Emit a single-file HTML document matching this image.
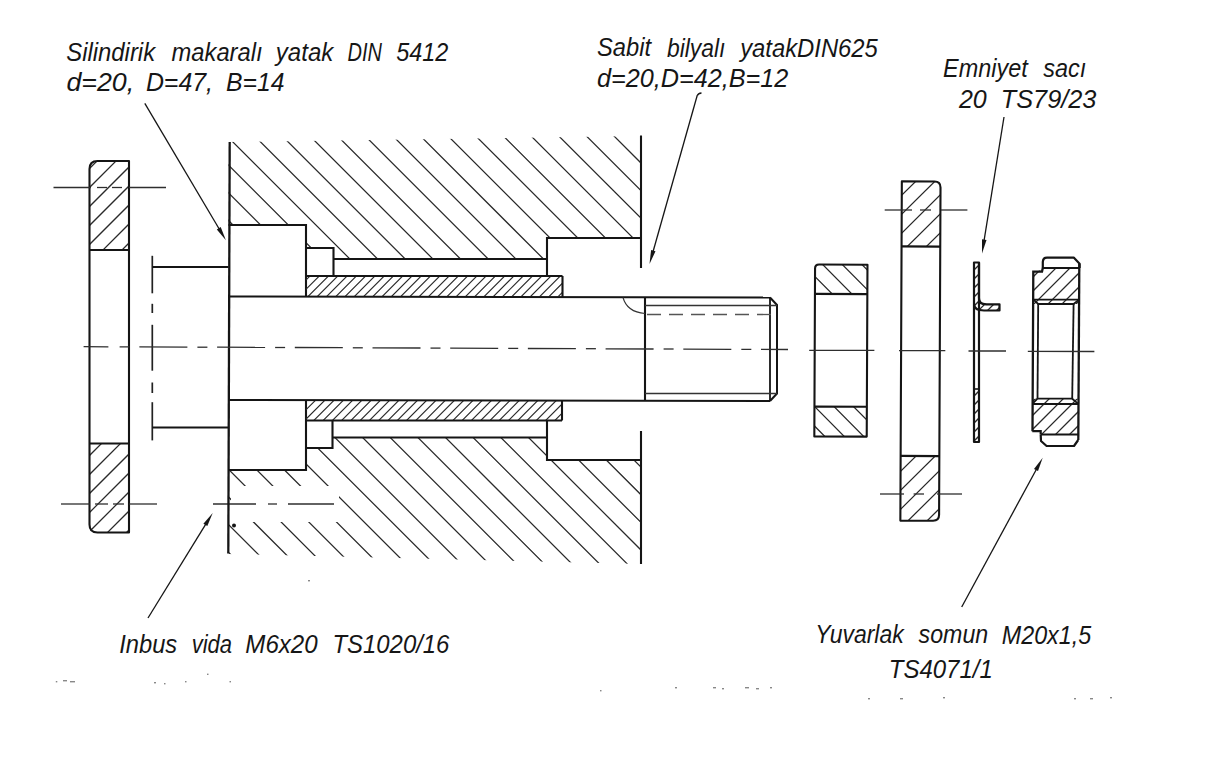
<!DOCTYPE html>
<html><head><meta charset="utf-8"><title>Drawing</title>
<style>
html,body{margin:0;padding:0;background:#fff;}
body{width:1209px;height:762px;overflow:hidden;}
svg{display:block;}
text{font-family:"Liberation Sans",sans-serif;font-style:italic;fill:#161616;}
</style></head><body>
<svg width="1209" height="762" viewBox="0 0 1209 762">
<defs><clipPath id="h1"><polygon points="92.5,161 129,161 129,250 89.5,250 89.5,164"/></clipPath>
<clipPath id="h2"><polygon points="89.5,443.5 129,443.5 129,532.5 92.5,532.5 89.5,529.5"/></clipPath>
<clipPath id="h3"><polygon points="228.5,142 641,136 641,238 547,238 547,259 333.5,259 333.5,248 306,248 306,225 228.5,225"/></clipPath>
<clipPath id="h4"><polygon points="228.5,470 306,470 306,448 332.5,448 332.5,437.5 547,437.5 547,460 641,460 641,564 228.5,554"/></clipPath>
<clipPath id="h5"><polygon points="306,276 562.5,276 562.5,296.5 306,296.5"/></clipPath>
<clipPath id="h6"><polygon points="306,400.5 562,400.5 562,420.5 306,420.5"/></clipPath>
<clipPath id="h7"><polygon points="814.7,264.6 867.1,264.6 867.1,294 814.7,294"/></clipPath>
<clipPath id="h8"><polygon points="814.7,406.7 867.1,406.7 867.1,436.5 814.7,436.5"/></clipPath>
<clipPath id="h9"><polygon points="901.1,181.5 939.8,181.5 939.8,246.5 901.1,246.5"/></clipPath>
<clipPath id="h10"><polygon points="901.1,456 939.8,456 939.8,520.7 901.1,520.7"/></clipPath>
<clipPath id="h11"><polygon points="974,262.5 979,262.5 979,303 999.5,304.5 999.5,310.5 974,310.5"/></clipPath>
<clipPath id="h12"><polygon points="974,389 979,389 979,442 974,442"/></clipPath>
<clipPath id="h13"><polygon points="1033.3,271.6 1042.8,270 1042.8,268 1079,268 1079,304 1033.3,304"/></clipPath>
<clipPath id="h14"><polygon points="1032.3,398.7 1078,398.7 1078,434.6 1040.7,434.6 1040.7,431.2 1032.3,431.2"/></clipPath></defs>
<rect width="1209" height="762" fill="#fff"/>
<path clip-path="url(#h1)" d="M99 159L6 252M118 159L25 252M137 159L44 252M156 159L63 252M175 159L82 252M194 159L101 252M213 159L120 252" stroke="#2a2a2a" stroke-width="1.25" fill="none"/>
<path clip-path="url(#h2)" d="M103.5 441.5L10.5 534.5M122.5 441.5L29.5 534.5M141.5 441.5L48.5 534.5M160.5 441.5L67.5 534.5M179.5 441.5L86.5 534.5M198.5 441.5L105.5 534.5M217.5 441.5L124.5 534.5" stroke="#2a2a2a" stroke-width="1.25" fill="none"/>
<path d="M129 161 L129 532.5 L97.5 532.5 Q89.5 532.5 89.5 524.5 L89.5 169 Q89.5 161 97.5 161 Z" fill="none" stroke="#151515" stroke-width="2.1" stroke-linejoin="round"/>
<line x1="89.5" y1="250" x2="129" y2="250" stroke="#151515" stroke-width="2.1" stroke-linecap="butt"/>
<line x1="89.5" y1="443.5" x2="129" y2="443.5" stroke="#151515" stroke-width="2.1" stroke-linecap="butt"/>
<line x1="53.5" y1="187.5" x2="91" y2="187.5" stroke="#2e2e2e" stroke-width="1.3" stroke-linecap="butt"/>
<line x1="97" y1="187.5" x2="107" y2="187.5" stroke="#2e2e2e" stroke-width="1.3" stroke-linecap="butt"/>
<line x1="112" y1="187.5" x2="122" y2="187.5" stroke="#2e2e2e" stroke-width="1.3" stroke-linecap="butt"/>
<line x1="129" y1="187.5" x2="166" y2="187.5" stroke="#2e2e2e" stroke-width="1.3" stroke-linecap="butt"/>
<line x1="61" y1="504" x2="90" y2="504" stroke="#2e2e2e" stroke-width="1.3" stroke-linecap="butt"/>
<line x1="95" y1="504" x2="108" y2="504" stroke="#2e2e2e" stroke-width="1.3" stroke-linecap="butt"/>
<line x1="113" y1="504" x2="124" y2="504" stroke="#2e2e2e" stroke-width="1.3" stroke-linecap="butt"/>
<line x1="129" y1="504" x2="157" y2="504" stroke="#2e2e2e" stroke-width="1.3" stroke-linecap="butt"/>
<line x1="152.3" y1="255.8" x2="152.3" y2="293.3" stroke="#222" stroke-width="1.7" stroke-linecap="butt"/>
<line x1="152.3" y1="303.8" x2="152.3" y2="313" stroke="#222" stroke-width="1.7" stroke-linecap="butt"/>
<line x1="152.3" y1="324.8" x2="152.3" y2="370.7" stroke="#222" stroke-width="1.7" stroke-linecap="butt"/>
<line x1="152.3" y1="382.5" x2="152.3" y2="393" stroke="#222" stroke-width="1.7" stroke-linecap="butt"/>
<line x1="152.3" y1="402.2" x2="152.3" y2="440.4" stroke="#222" stroke-width="1.7" stroke-linecap="butt"/>
<line x1="152.3" y1="267" x2="228.5" y2="267" stroke="#151515" stroke-width="1.8" stroke-linecap="butt"/>
<line x1="152.3" y1="427.5" x2="228.5" y2="427.5" stroke="#151515" stroke-width="1.8" stroke-linecap="butt"/>
<path clip-path="url(#h3)" d="M114.3 134L241.3 261M142 134L269 261M169.7 134L296.6 261M197.3 134L324.3 261M224.9 134L351.9 261M252.6 134L379.6 261M280.2 134L407.2 261M307.9 134L434.9 261M335.5 134L462.5 261M363.2 134L490.2 261M390.9 134L517.9 261M418.5 134L545.5 261M446.1 134L573.1 261M473.8 134L600.8 261M501.4 134L628.5 261M529.1 134L656.1 261M556.8 134L683.8 261M584.4 134L711.4 261M612 134L739 261" stroke="#2a2a2a" stroke-width="1.25" fill="none"/>
<path clip-path="url(#h4)" d="M111.7 435.5L242.2 566M139.4 435.5L269.9 566M167 435.5L297.5 566M194.7 435.5L325.1 566M222.3 435.5L352.8 566M250 435.5L380.5 566M277.6 435.5L408.1 566M305.2 435.5L435.8 566M332.9 435.5L463.4 566M360.6 435.5L491.1 566M388.2 435.5L518.7 566M415.9 435.5L546.4 566M443.5 435.5L574 566M471.1 435.5L601.6 566M498.8 435.5L629.3 566M526.5 435.5L657 566M554.1 435.5L684.6 566M581.8 435.5L712.2 566M609.4 435.5L739.9 566M637 435.5L767.5 566" stroke="#2a2a2a" stroke-width="1.25" fill="none"/>
<rect x="231" y="486" width="108" height="36" fill="#fff"/>
<line x1="213" y1="504" x2="256" y2="504" stroke="#2e2e2e" stroke-width="1.3" stroke-linecap="butt"/>
<line x1="268" y1="504" x2="277" y2="504" stroke="#2e2e2e" stroke-width="1.3" stroke-linecap="butt"/>
<line x1="288" y1="504" x2="334" y2="504" stroke="#2e2e2e" stroke-width="1.3" stroke-linecap="butt"/>
<line x1="229.7" y1="142" x2="228.3" y2="553.5" stroke="#151515" stroke-width="2.3" stroke-linecap="butt"/>
<line x1="641" y1="135.5" x2="641" y2="268" stroke="#151515" stroke-width="2.1" stroke-linecap="butt"/>
<line x1="641" y1="431" x2="641" y2="564" stroke="#151515" stroke-width="2.1" stroke-linecap="butt"/>
<polyline points="228.5,225 306,225 306,296" fill="none" stroke="#151515" stroke-width="2.1" stroke-linejoin="miter"/>
<polyline points="306,248 333.5,248 333.5,276" fill="none" stroke="#151515" stroke-width="2.1" stroke-linejoin="miter"/>
<line x1="333.5" y1="259" x2="547" y2="259" stroke="#151515" stroke-width="2.1" stroke-linecap="butt"/>
<polyline points="547,277 547,238 641,238" fill="none" stroke="#151515" stroke-width="2.1" stroke-linejoin="miter"/>
<path clip-path="url(#h5)" d="M312 274L287.5 298.5M321.3 274L296.8 298.5M330.5 274L306 298.5M339.8 274L315.3 298.5M349.1 274L324.6 298.5M358.4 274L333.9 298.5M367.6 274L343.1 298.5M376.9 274L352.4 298.5M386.2 274L361.7 298.5M395.4 274L370.9 298.5M404.7 274L380.2 298.5M414 274L389.5 298.5M423.2 274L398.8 298.5M432.5 274L408 298.5M441.8 274L417.3 298.5M451.1 274L426.6 298.5M460.3 274L435.8 298.5M469.6 274L445.1 298.5M478.9 274L454.4 298.5M488.1 274L463.6 298.5M497.4 274L472.9 298.5M506.7 274L482.2 298.5M515.9 274L491.4 298.5M525.2 274L500.7 298.5M534.5 274L510 298.5M543.8 274L519.3 298.5M553 274L528.5 298.5M562.3 274L537.8 298.5M571.6 274L547.1 298.5M580.8 274L556.3 298.5" stroke="#2a2a2a" stroke-width="1.15" fill="none"/>
<line x1="306" y1="276" x2="562.5" y2="276" stroke="#151515" stroke-width="2.1" stroke-linecap="butt"/>
<line x1="562.5" y1="276" x2="562.5" y2="297" stroke="#151515" stroke-width="2.1" stroke-linecap="butt"/>
<polyline points="228.5,470 306,470 306,400" fill="none" stroke="#151515" stroke-width="2.1" stroke-linejoin="miter"/>
<polyline points="306,448 332.5,448 332.5,420.5" fill="none" stroke="#151515" stroke-width="2.1" stroke-linejoin="miter"/>
<line x1="332.5" y1="437.5" x2="547" y2="437.5" stroke="#151515" stroke-width="2.1" stroke-linecap="butt"/>
<polyline points="547,420.5 547,460 641,460" fill="none" stroke="#151515" stroke-width="2.1" stroke-linejoin="miter"/>
<path clip-path="url(#h6)" d="M308 398.5L284 422.5M317.3 398.5L293.3 422.5M326.6 398.5L302.6 422.5M335.8 398.5L311.8 422.5M345.1 398.5L321.1 422.5M354.4 398.5L330.4 422.5M363.6 398.5L339.6 422.5M372.9 398.5L348.9 422.5M382.2 398.5L358.2 422.5M391.4 398.5L367.4 422.5M400.7 398.5L376.7 422.5M410 398.5L386 422.5M419.3 398.5L395.3 422.5M428.5 398.5L404.5 422.5M437.8 398.5L413.8 422.5M447.1 398.5L423.1 422.5M456.3 398.5L432.3 422.5M465.6 398.5L441.6 422.5M474.9 398.5L450.9 422.5M484.1 398.5L460.1 422.5M493.4 398.5L469.4 422.5M502.7 398.5L478.7 422.5M512 398.5L488 422.5M521.2 398.5L497.2 422.5M530.5 398.5L506.5 422.5M539.8 398.5L515.8 422.5M549 398.5L525 422.5M558.3 398.5L534.3 422.5M567.6 398.5L543.6 422.5M576.8 398.5L552.8 422.5" stroke="#2a2a2a" stroke-width="1.15" fill="none"/>
<line x1="306" y1="420.5" x2="562" y2="420.5" stroke="#151515" stroke-width="2.1" stroke-linecap="butt"/>
<line x1="562" y1="400.5" x2="562" y2="420.5" stroke="#151515" stroke-width="2.1" stroke-linecap="butt"/>
<line x1="228.5" y1="296.5" x2="770" y2="297.5" stroke="#151515" stroke-width="2.1" stroke-linecap="butt"/>
<line x1="228.5" y1="400" x2="770" y2="401" stroke="#151515" stroke-width="2.1" stroke-linecap="butt"/>
<line x1="645" y1="297.5" x2="645" y2="401" stroke="#151515" stroke-width="2.1" stroke-linecap="butt"/>
<polyline points="770,297.5 777,305 777,393.5 770,401" fill="none" stroke="#151515" stroke-width="2.0" stroke-linejoin="miter"/>
<line x1="770" y1="297.5" x2="770" y2="401" stroke="#151515" stroke-width="1.8" stroke-linecap="butt"/>
<line x1="645" y1="305.5" x2="777" y2="305.5" stroke="#333" stroke-width="1.3" stroke-linecap="butt"/>
<line x1="645" y1="393.5" x2="777" y2="393.5" stroke="#333" stroke-width="1.3" stroke-linecap="butt"/>
<line x1="647" y1="314.5" x2="777" y2="314.5" stroke="#555" stroke-width="1.3" stroke-linecap="butt" stroke-dasharray="14 8"/>
<path d="M623 297.5 Q627 312 645 313.5" fill="none" stroke="#333" stroke-width="1.1" stroke-linejoin="round"/>
<line x1="83.6" y1="346.7" x2="108.4" y2="346.8" stroke="#2e2e2e" stroke-width="1.3" stroke-linecap="butt"/>
<line x1="119.6" y1="346.8" x2="129.5" y2="346.9" stroke="#2e2e2e" stroke-width="1.3" stroke-linecap="butt"/>
<line x1="139.4" y1="346.9" x2="187.4" y2="347.1" stroke="#2e2e2e" stroke-width="1.3" stroke-linecap="butt"/>
<line x1="197.4" y1="347.2" x2="207.4" y2="347.2" stroke="#2e2e2e" stroke-width="1.3" stroke-linecap="butt"/>
<line x1="217.1" y1="347.2" x2="265.1" y2="347.4" stroke="#2e2e2e" stroke-width="1.3" stroke-linecap="butt"/>
<line x1="275.1" y1="347.5" x2="285.1" y2="347.5" stroke="#2e2e2e" stroke-width="1.3" stroke-linecap="butt"/>
<line x1="294.8" y1="347.5" x2="342.8" y2="347.7" stroke="#2e2e2e" stroke-width="1.3" stroke-linecap="butt"/>
<line x1="352.8" y1="347.8" x2="362.8" y2="347.8" stroke="#2e2e2e" stroke-width="1.3" stroke-linecap="butt"/>
<line x1="372.5" y1="347.8" x2="420.5" y2="348" stroke="#2e2e2e" stroke-width="1.3" stroke-linecap="butt"/>
<line x1="430.5" y1="348.1" x2="440.5" y2="348.1" stroke="#2e2e2e" stroke-width="1.3" stroke-linecap="butt"/>
<line x1="450.2" y1="348.2" x2="498.2" y2="348.3" stroke="#2e2e2e" stroke-width="1.3" stroke-linecap="butt"/>
<line x1="508.2" y1="348.4" x2="518.2" y2="348.4" stroke="#2e2e2e" stroke-width="1.3" stroke-linecap="butt"/>
<line x1="527.9" y1="348.5" x2="575.9" y2="348.7" stroke="#2e2e2e" stroke-width="1.3" stroke-linecap="butt"/>
<line x1="585.9" y1="348.7" x2="595.9" y2="348.7" stroke="#2e2e2e" stroke-width="1.3" stroke-linecap="butt"/>
<line x1="605.6" y1="348.8" x2="653.6" y2="349" stroke="#2e2e2e" stroke-width="1.3" stroke-linecap="butt"/>
<line x1="663.6" y1="349" x2="673.6" y2="349" stroke="#2e2e2e" stroke-width="1.3" stroke-linecap="butt"/>
<line x1="683.3" y1="349.1" x2="731.3" y2="349.3" stroke="#2e2e2e" stroke-width="1.3" stroke-linecap="butt"/>
<line x1="741.3" y1="349.3" x2="751.3" y2="349.4" stroke="#2e2e2e" stroke-width="1.3" stroke-linecap="butt"/>
<line x1="761" y1="349.4" x2="788" y2="349.5" stroke="#2e2e2e" stroke-width="1.3" stroke-linecap="butt"/>
<g transform="rotate(0.25 841 350)">
<path clip-path="url(#h7)" d="M800.6 262.6L834 296M820.3 262.6L853.7 296M840 262.6L873.4 296M859.7 262.6L893.1 296" stroke="#2a2a2a" stroke-width="1.25" fill="none"/>
<path clip-path="url(#h8)" d="M793.4 404.7L827.2 438.5M812.9 404.7L846.7 438.5M832.4 404.7L866.2 438.5M851.9 404.7L885.7 438.5" stroke="#2a2a2a" stroke-width="1.25" fill="none"/>
<path d="M814.7 268.6 Q814.7 264.6 818.7 264.6 L867.1 264.6 L867.1 436.5 L814.7 436.5 Z" fill="none" stroke="#151515" stroke-width="2.1" stroke-linejoin="round"/>
<line x1="814.7" y1="294" x2="867.1" y2="294" stroke="#151515" stroke-width="2.1" stroke-linecap="butt"/>
<line x1="814.7" y1="406.7" x2="867.1" y2="406.7" stroke="#151515" stroke-width="2.1" stroke-linecap="butt"/>
</g>
<line x1="809.2" y1="350.3" x2="874.4" y2="350.4" stroke="#2e2e2e" stroke-width="1.3" stroke-linecap="butt"/>
<g transform="rotate(0.25 920 351)">
<path clip-path="url(#h9)" d="M916.9 179.5L847.9 248.5M935.9 179.5L866.9 248.5M954.9 179.5L885.9 248.5M973.9 179.5L904.9 248.5M992.9 179.5L923.9 248.5" stroke="#2a2a2a" stroke-width="1.25" fill="none"/>
<path clip-path="url(#h10)" d="M918.6 454L849.9 522.7M937.6 454L868.9 522.7M956.6 454L887.9 522.7M975.6 454L906.9 522.7M994.6 454L925.9 522.7" stroke="#2a2a2a" stroke-width="1.25" fill="none"/>
<path d="M901.1 181.5 L901.1 520.7 L933.8 520.7 Q939.8 520.7 939.8 514.7 L939.8 187.5 Q939.8 181.5 933.8 181.5 Z" fill="none" stroke="#151515" stroke-width="2.1" stroke-linejoin="round"/>
<line x1="901.1" y1="246.5" x2="939.8" y2="246.5" stroke="#151515" stroke-width="2.1" stroke-linecap="butt"/>
<line x1="901.1" y1="456" x2="939.8" y2="456" stroke="#151515" stroke-width="2.1" stroke-linecap="butt"/>
</g>
<line x1="884.7" y1="210" x2="912" y2="210" stroke="#2e2e2e" stroke-width="1.3" stroke-linecap="butt"/>
<line x1="920" y1="210" x2="931" y2="210" stroke="#2e2e2e" stroke-width="1.3" stroke-linecap="butt"/>
<line x1="941" y1="210" x2="967.4" y2="210" stroke="#2e2e2e" stroke-width="1.3" stroke-linecap="butt"/>
<line x1="880" y1="494" x2="904" y2="494" stroke="#2e2e2e" stroke-width="1.3" stroke-linecap="butt"/>
<line x1="913.6" y1="494" x2="924" y2="494" stroke="#2e2e2e" stroke-width="1.3" stroke-linecap="butt"/>
<line x1="937" y1="494" x2="962" y2="494" stroke="#2e2e2e" stroke-width="1.3" stroke-linecap="butt"/>
<line x1="899" y1="350.6" x2="945.3" y2="350.7" stroke="#2e2e2e" stroke-width="1.3" stroke-linecap="butt"/>
<path clip-path="url(#h11)" d="M983.5 260.5L931.5 312.5M992.5 260.5L940.5 312.5M1001.5 260.5L949.5 312.5M1010.5 260.5L958.5 312.5M1019.5 260.5L967.5 312.5M1028.5 260.5L976.5 312.5M1037.5 260.5L985.5 312.5M1046.5 260.5L994.5 312.5" stroke="#2a2a2a" stroke-width="1.25" fill="none"/>
<path clip-path="url(#h12)" d="M983 387L926 444M992 387L935 444M1001 387L944 444M1010 387L953 444M1019 387L962 444M1028 387L971 444" stroke="#2a2a2a" stroke-width="1.25" fill="none"/>
<path d="M979 262.5 L974 262.5 L974 442 L979 442 Z" fill="none" stroke="#151515" stroke-width="2.2" stroke-linejoin="round"/>
<path d="M979 262.5 L979 298 Q979 304.3 986 304.3 L999.5 304.3 L999.5 310.5 L984 310.5 Q974 310.5 974 304" fill="none" stroke="#151515" stroke-width="2.2" stroke-linejoin="round"/>
<line x1="974" y1="389" x2="979" y2="389" stroke="#151515" stroke-width="1.6" stroke-linecap="butt"/>
<line x1="968.5" y1="351" x2="1006" y2="351" stroke="#2e2e2e" stroke-width="1.3" stroke-linecap="butt"/>
<path clip-path="url(#h13)" d="M1044 266L1004 306M1058 266L1018 306M1072 266L1032 306M1086 266L1046 306M1100 266L1060 306M1114 266L1074 306" stroke="#2a2a2a" stroke-width="1.25" fill="none"/>
<path clip-path="url(#h14)" d="M1037.3 396.7L997.4 436.6M1051.3 396.7L1011.4 436.6M1065.3 396.7L1025.4 436.6M1079.3 396.7L1039.4 436.6M1093.3 396.7L1053.4 436.6M1107.3 396.7L1067.4 436.6" stroke="#2a2a2a" stroke-width="1.25" fill="none"/>
<path d="M1042.8 268 L1042.8 262 Q1043 257.6 1047 257.6 L1073.7 257.6 L1079.6 263.7 L1079.6 268" fill="none" stroke="#151515" stroke-width="2.2" stroke-linejoin="round"/>
<line x1="1042.8" y1="268" x2="1079.6" y2="268" stroke="#151515" stroke-width="2.0" stroke-linecap="butt"/>
<polyline points="1042.8,268 1042,271.6 1033.3,271.6 1032.5,431.2" fill="none" stroke="#151515" stroke-width="2.3" stroke-linejoin="miter"/>
<line x1="1079.3" y1="263.7" x2="1078.3" y2="440" stroke="#151515" stroke-width="2.3" stroke-linecap="butt"/>
<line x1="1033.3" y1="299.6" x2="1079" y2="299.6" stroke="#151515" stroke-width="1.8" stroke-linecap="butt"/>
<polyline points="1033.5,299.6 1038.2,304 1073.6,304 1079,299.6" fill="none" stroke="#151515" stroke-width="1.8" stroke-linejoin="miter"/>
<line x1="1038.2" y1="304" x2="1037.5" y2="398.7" stroke="#151515" stroke-width="1.8" stroke-linecap="butt"/>
<line x1="1073.6" y1="304" x2="1072.2" y2="398.7" stroke="#151515" stroke-width="1.8" stroke-linecap="butt"/>
<polyline points="1032.5,403.6 1037.5,398.7 1072.2,398.7 1078,403.6" fill="none" stroke="#151515" stroke-width="1.8" stroke-linejoin="miter"/>
<line x1="1032.5" y1="404" x2="1078" y2="404" stroke="#151515" stroke-width="1.8" stroke-linecap="butt"/>
<polyline points="1032.3,431.2 1040.7,431.2 1040.7,434.6" fill="none" stroke="#151515" stroke-width="2.2" stroke-linejoin="miter"/>
<line x1="1040.7" y1="434.6" x2="1078.2" y2="434.6" stroke="#151515" stroke-width="2.0" stroke-linecap="butt"/>
<path d="M1040.7 434.6 L1041 441 L1046.6 446 L1074 446 L1078.2 440" fill="none" stroke="#151515" stroke-width="2.2" stroke-linejoin="round"/>
<line x1="1027.8" y1="351.3" x2="1094.4" y2="351.5" stroke="#2e2e2e" stroke-width="1.3" stroke-linecap="butt"/>
<line x1="144.8" y1="103.3" x2="219.8" y2="230" stroke="#151515" stroke-width="1.3" stroke-linecap="butt"/>
<polygon points="225.9,240.3 216.8,229.4 220.7,227.1" fill="#151515"/>
<line x1="697.2" y1="95.5" x2="652.8" y2="252.5" stroke="#151515" stroke-width="1.3" stroke-linecap="butt"/>
<polygon points="649.5,264 651.1,249.9 655.5,251.2" fill="#151515"/>
<path d="M701.5 93 Q698 93.2 697.2 95.8" fill="none" stroke="#151515" stroke-width="1.3" stroke-linejoin="round"/>
<line x1="1004" y1="117" x2="983.9" y2="241.7" stroke="#151515" stroke-width="1.3" stroke-linecap="butt"/>
<polygon points="982,253.5 982,239.3 986.5,240" fill="#151515"/>
<line x1="148" y1="618" x2="206.4" y2="523.2" stroke="#151515" stroke-width="1.3" stroke-linecap="butt"/>
<polygon points="212.7,513 207.3,526.1 203.4,523.7" fill="#151515"/>
<line x1="961.7" y1="607" x2="1037" y2="468.2" stroke="#151515" stroke-width="1.3" stroke-linecap="butt"/>
<polygon points="1042.7,457.7 1038,471.1 1034,468.9" fill="#151515"/>
<rect x="55.8" y="681" width="1.5" height="1.4" fill="#888"/>
<rect x="63" y="680" width="4" height="1.4" fill="#888"/>
<rect x="70" y="681" width="5" height="1.4" fill="#888"/>
<rect x="154" y="682" width="2" height="1.4" fill="#888"/>
<rect x="164" y="683" width="1.5" height="1.4" fill="#888"/>
<rect x="185" y="681" width="1.5" height="1.4" fill="#888"/>
<rect x="207" y="673.6" width="1.5" height="1.4" fill="#888"/>
<rect x="229.5" y="681" width="1.5" height="1.4" fill="#888"/>
<rect x="675" y="687" width="2" height="1.4" fill="#888"/>
<rect x="713" y="687" width="3" height="1.4" fill="#888"/>
<rect x="722" y="688" width="2" height="1.4" fill="#888"/>
<rect x="745" y="687" width="4" height="1.4" fill="#888"/>
<rect x="756" y="688" width="3" height="1.4" fill="#888"/>
<rect x="770" y="687" width="2" height="1.4" fill="#888"/>
<rect x="868" y="698" width="2" height="1.4" fill="#888"/>
<rect x="900" y="698" width="3" height="1.4" fill="#888"/>
<rect x="943" y="697" width="2" height="1.4" fill="#888"/>
<rect x="1074" y="698" width="2" height="1.4" fill="#888"/>
<rect x="1090" y="698" width="3" height="1.4" fill="#888"/>
<rect x="1110" y="697" width="2" height="1.4" fill="#888"/>
<rect x="600" y="690" width="1.5" height="1.4" fill="#888"/>
<rect x="308" y="580" width="2" height="1.4" fill="#888"/>
<circle cx="234" cy="525.5" r="2" fill="#151515"/>
<text x="66.3" y="61" font-size="25.0" textLength="88.8" lengthAdjust="spacingAndGlyphs">Silindirik</text>
<text x="171.6" y="61" font-size="25.0" textLength="91" lengthAdjust="spacingAndGlyphs">makaralı</text>
<text x="275.8" y="61" font-size="25.0" textLength="57.5" lengthAdjust="spacingAndGlyphs">yatak</text>
<text x="347.6" y="61.3" font-size="26.5" textLength="34.4" lengthAdjust="spacingAndGlyphs">DIN</text>
<text x="396.3" y="61.3" font-size="26.5" textLength="52.1" lengthAdjust="spacingAndGlyphs">5412</text>
<text x="66.4" y="91.3" font-size="26.5" textLength="67.8" lengthAdjust="spacingAndGlyphs">d=20,</text>
<text x="145.9" y="91.3" font-size="26.5" textLength="67.1" lengthAdjust="spacingAndGlyphs">D=47,</text>
<text x="226.1" y="91.3" font-size="26.5" textLength="58.4" lengthAdjust="spacingAndGlyphs">B=14</text>
<text x="597" y="56.3" font-size="25.0" textLength="54" lengthAdjust="spacingAndGlyphs">Sabit</text>
<text x="667" y="56.5" font-size="25.0" textLength="58.4" lengthAdjust="spacingAndGlyphs">bilyalı</text>
<text x="740.2" y="57" font-size="26.5" textLength="137.6" lengthAdjust="spacingAndGlyphs">yatakDIN625</text>
<text x="597" y="87.4" font-size="26.5" textLength="191.3" lengthAdjust="spacingAndGlyphs">d=20,D=42,B=12</text>
<text x="943.1" y="77.2" font-size="25.0" textLength="84.7" lengthAdjust="spacingAndGlyphs">Emniyet</text>
<text x="1043.2" y="77.2" font-size="25.0" textLength="43" lengthAdjust="spacingAndGlyphs">sacı</text>
<text x="958.9" y="107.8" font-size="26.5" textLength="27.8" lengthAdjust="spacingAndGlyphs">20</text>
<text x="1000.8" y="107.8" font-size="26.5" textLength="95.6" lengthAdjust="spacingAndGlyphs">TS79/23</text>
<text x="119.2" y="652.6" font-size="25.0" textLength="58" lengthAdjust="spacingAndGlyphs">Inbus</text>
<text x="191.7" y="652.8" font-size="25.0" textLength="40.4" lengthAdjust="spacingAndGlyphs">vida</text>
<text x="245.3" y="653" font-size="26.5" textLength="72.4" lengthAdjust="spacingAndGlyphs">M6x20</text>
<text x="332.5" y="653.3" font-size="26.5" textLength="116.9" lengthAdjust="spacingAndGlyphs">TS1020/16</text>
<text x="815.2" y="642.6" font-size="25.0" textLength="88.5" lengthAdjust="spacingAndGlyphs">Yuvarlak</text>
<text x="918.6" y="643" font-size="25.0" textLength="69.6" lengthAdjust="spacingAndGlyphs">somun</text>
<text x="1001.8" y="643.6" font-size="26.5" textLength="89.3" lengthAdjust="spacingAndGlyphs">M20x1,5</text>
<text x="888.8" y="678.2" font-size="26.5" textLength="104" lengthAdjust="spacingAndGlyphs">TS4071/1</text>
</svg>
</body></html>
